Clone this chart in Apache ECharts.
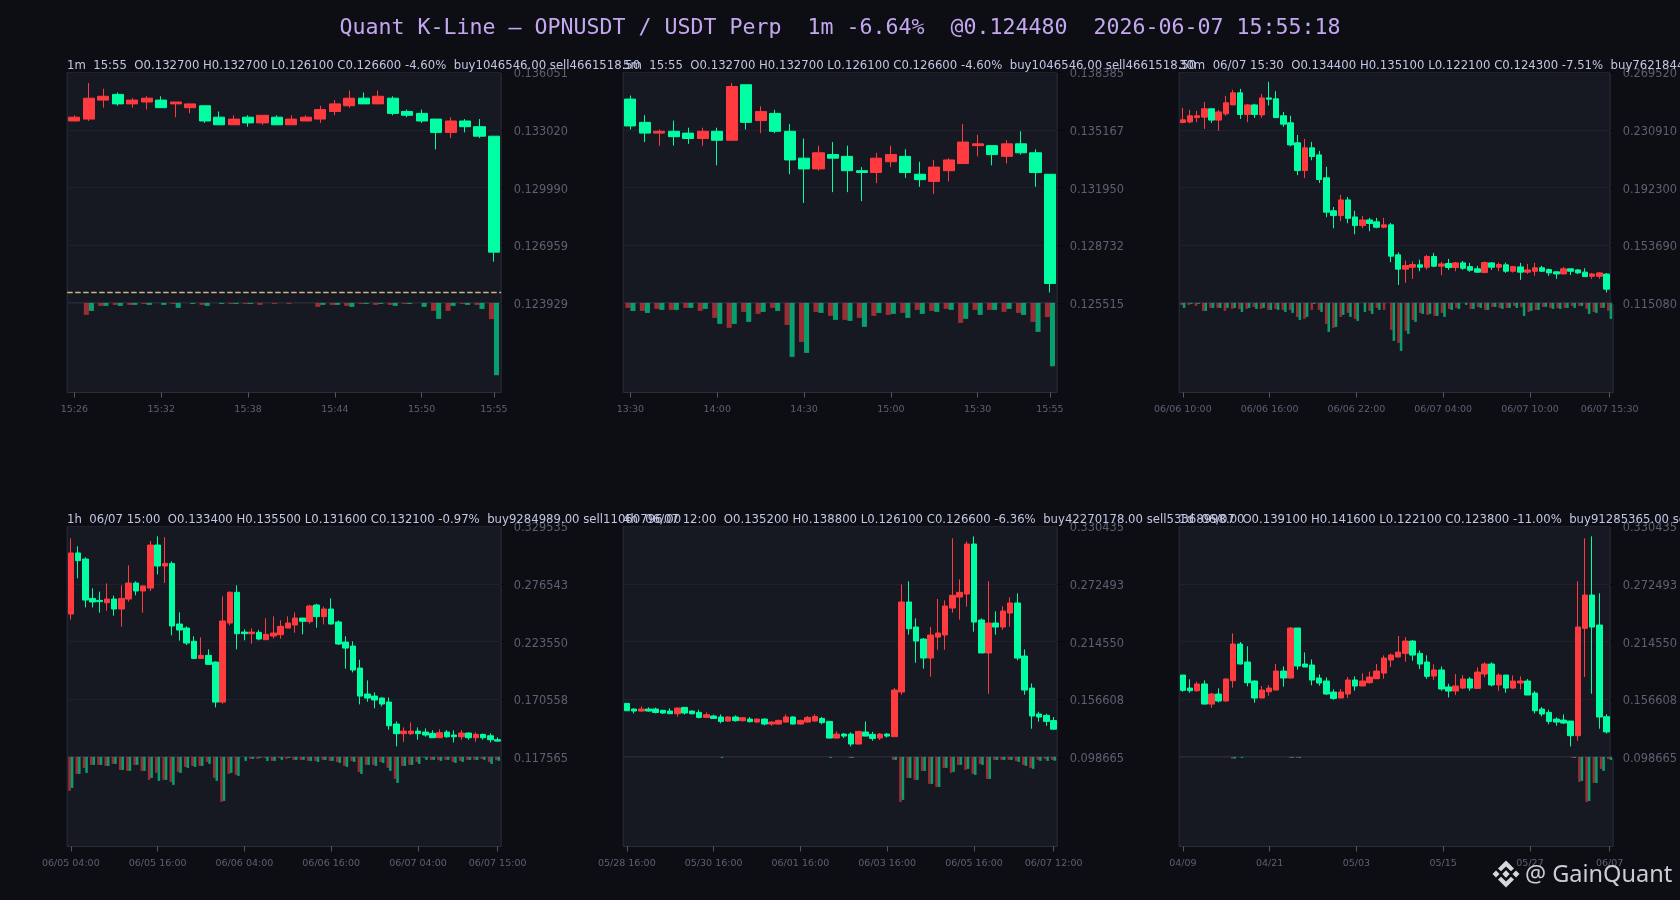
<!DOCTYPE html>
<html><head><meta charset="utf-8">
<style>html,body{margin:0;padding:0;background:#0d0e14}#c{width:1680px;height:900px}</style>
<script src="https://cdn.jsdelivr.net/npm/echarts@6/dist/echarts.min.js"></script>
</head><body><div id="c"></div>
<script>
const headline = 'Quant K-Line — OPNUSDT / USDT Perp  1m -6.64%  @0.124480  2026-06-07 15:55:18';
const watermark = '@ GainQuant';
const lastPrice = 0.12448;

// each candle row: open, close, low, high
const candles1m = [[.1335,.1337,.1335,.1338],[.1336,.1347,.1335,.1355],[.1346,.1348,.1342,.1352],[.1349,.1344,.1343,.1350],[.1344,.1346,.1342,.1347],[.1345,.1347,.1341,.1348],[.1346,.1342,.1342,.1348],[.1344,.1345,.1337,.1345],[.1342,.1344,.1339,.1344],[.1343,.1335,.1334,.1343],[.1337,.1333,.1333,.1340],[.1333,.1336,.1333,.1338],[.1337,.1334,.1332,.1338],[.1334,.1338,.1333,.1338],[.1337,.1333,.1333,.1338],[.1333,.1336,.1333,.1338],[.1335,.1337,.1335,.1338],[.1336,.1341,.1334,.1343],[.1340,.1344,.1338,.1346],[.1343,.1347,.1342,.1351],[.1347,.1344,.1344,.1350],[.1344,.1348,.1344,.1351],[.1347,.1339,.1338,.1348],[.1340,.1338,.1337,.1341],[.1339,.1335,.1334,.1341],[.1336,.1329,.1320,.1336],[.1329,.1335,.1326,.1337],[.1335,.1332,.1329,.1336],[.1332,.1327,.1326,.1336],[.1327,.1266,.1261,.1327]];
const buy1m = [0,773,193,129,129,64,0,64,0,129,0,64,64,129,64,64,0,258,129,193,64,129,129,64,0,516,516,64,129,1047];
const sell1m = [0,516,193,193,129,129,129,322,64,193,64,64,64,0,0,0,0,129,129,258,64,64,193,64,258,1031,193,129,387,4662];
const yTicks1m = [0.123929,0.126959,0.129990,0.133020,0.136051];
const xTicks1m = ['15:26','15:32','15:38','15:44','15:50','15:55'];

const candles5m = [[.1369,.1354,.1352,.1371],[.1356,.1350,.1345,.1360],[.1350,.1351,.1343,.1352],[.1351,.1348,.1343,.1357],[.1350,.1347,.1344,.1353],[.1347,.1351,.1343,.1353],[.1351,.1346,.1332,.1353],[.1346,.1376,.1346,.1378],[.1377,.1356,.1352,.1377],[.1357,.1362,.1350,.1365],[.1361,.1351,.1350,.1363],[.1351,.1335,.1327,.1355],[.1336,.1330,.1311,.1347],[.1330,.1339,.1329,.1343],[.1338,.1336,.1317,.1345],[.1337,.1329,.1317,.1343],[.1329,.1328,.1312,.1331],[.1328,.1336,.1322,.1339],[.1334,.1338,.1331,.1343],[.1337,.1328,.1325,.1341],[.1327,.1324,.1320,.1334],[.1323,.1331,.1316,.1335],[.1329,.1335,.1323,.1336],[.1333,.1345,.1333,.1355],[.1343,.1344,.1337,.1349],[.1343,.1338,.1332,.1343],[.1337,.1344,.1333,.1346],[.1344,.1339,.1338,.1351],[.1339,.1328,.1320,.1341],[.1327,.1266,.1261,.1327]];
const buy5m = [368,588,441,515,368,588,1104,1839,662,809,368,1619,2870,662,956,1251,1104,956,883,736,515,588,441,1471,515,515,662,736,1398,1047];
const sell5m = [589,736,515,515,368,441,1545,1545,1398,662,589,3974,3680,736,1251,1325,1766,736,809,1104,809,662,515,1177,883,515,441,883,2134,4662];
const yTicks5m = [0.125515,0.128732,0.131950,0.135167,0.138385];
const xTicks5m = ['13:30','14:00','14:30','15:00','15:30','15:55'];

const candles30m = [[.2360,.2378,.2355,.2458],[.2364,.2405,.2355,.2445],[.2393,.2405,.2362,.2438],[.2396,.2452,.2317,.2498],[.2452,.2376,.2358,.2452],[.2376,.2431,.2304,.2445],[.2418,.2492,.2405,.2539],[.2478,.2559,.2478,.2579],[.2559,.2414,.2384,.2586],[.2414,.2478,.2362,.2485],[.2478,.2414,.2391,.2485],[.2411,.2525,.2391,.2552],[.2525,.2516,.2474,.2633],[.2519,.2393,.2393,.2570],[.2405,.2349,.2331,.2431],[.2358,.2210,.2201,.2405],[.2224,.2038,.2007,.2277],[.2038,.2190,.1987,.2250],[.2190,.2132,.2107,.2230],[.2143,.1978,.1955,.2170],[.1989,.1759,.1725,.2063],[.1768,.1736,.1651,.1794],[.1736,.1841,.1698,.1875],[.1841,.1718,.1685,.1861],[.1727,.1669,.1611,.1768],[.1669,.1707,.1651,.1734],[.1707,.1683,.1631,.1721],[.1694,.1658,.1651,.1721],[.1658,.1674,.1651,.1721],[.1674,.1464,.1424,.1687],[.1473,.1377,.1271,.1490],[.1377,.1401,.1285,.1435],[.1390,.1408,.1312,.1428],[.1406,.1390,.1363,.1441],[.1390,.1462,.1374,.1473],[.1462,.1397,.1390,.1486],[.1397,.1412,.1336,.1426],[.1415,.1388,.1372,.1446],[.1388,.1419,.1363,.1426],[.1419,.1383,.1372,.1432],[.1394,.1370,.1359,.1419],[.1379,.1357,.1352,.1399],[.1354,.1421,.1352,.1428],[.1419,.1390,.1372,.1424],[.1390,.1408,.1363,.1421],[.1406,.1363,.1352,.1421],[.1363,.1394,.1354,.1399],[.1392,.1357,.1305,.1419],[.1357,.1372,.1345,.1412],[.1363,.1386,.1332,.1419],[.1386,.1363,.1357,.1399],[.1374,.1352,.1332,.1381],[.1359,.1345,.1312,.1363],[.1345,.1379,.1343,.1392],[.1379,.1363,.1338,.1379],[.1372,.1352,.1345,.1377],[.1357,.1327,.1325,.1383],[.1329,.1345,.1312,.1352],[.1329,.1352,.1312,.1357],[.1344,.1243,.1221,.1351]];
const buy30m = [1920,1920,2880,7680,4800,4800,7680,5760,5760,5760,3840,5760,6720,5760,6720,6720,13440,15360,6720,6720,20160,24000,13440,9600,15360,0,7680,4800,6720,25920,38400,26880,16320,9600,11520,12480,9600,5760,4800,0,5760,3840,6720,3840,4800,4800,2880,3840,8640,6720,3840,4800,4800,4800,2880,2880,5760,8640,4800,7622];
const sell30m = [4800,960,960,7680,4800,4800,4800,4800,8640,4800,5760,4800,6720,6720,8640,9600,16320,13440,960,8640,27840,23040,11520,13440,17280,8640,10560,6720,0,36480,46080,29760,18240,10560,10560,12480,13440,6720,5760,1920,5760,4800,6720,3840,5760,4800,4800,12480,7680,6720,3840,5760,5760,4800,4800,2880,10560,9600,4800,15360];
const yTicks30m = [0.115080,0.153690,0.192300,0.230910,0.269520];
const xTicks30m = ['06/06 10:00','06/06 16:00','06/06 22:00','06/07 04:00','06/07 10:00','06/07 15:30'];

const candles1h = [[.2490,.3052,.2438,.3186],[.3052,.2981,.2818,.3113],[.2996,.2619,.2551,.3012],[.2634,.2601,.2551,.2726],[.2616,.2604,.2502,.2696],[.2594,.2628,.2521,.2772],[.2628,.2536,.2475,.2659],[.2536,.2634,.2374,.2754],[.2628,.2775,.2604,.2938],[.2775,.2702,.2662,.2791],[.2702,.2748,.2502,.2754],[.2729,.3125,.2702,.3162],[.3125,.2932,.2855,.3205],[.2932,.2956,.2775,.3196],[.2956,.2380,.2294,.2975],[.2398,.2343,.2245,.2505],[.2361,.2223,.2205,.2377],[.2239,.2082,.2076,.2285],[.2082,.2110,.2076,.2275],[.2110,.2027,.2021,.2165],[.2048,.1680,.1631,.2054],[.1680,.2426,.1665,.2653],[.2407,.2690,.2386,.2699],[.2690,.2309,.2165,.2754],[.2324,.2309,.2248,.2349],[.2309,.2324,.2217,.2358],[.2321,.2260,.2248,.2343],[.2254,.2303,.2254,.2450],[.2288,.2315,.2266,.2469],[.2300,.2377,.2263,.2432],[.2361,.2407,.2361,.2469],[.2389,.2453,.2318,.2505],[.2453,.2423,.2303,.2453],[.2420,.2564,.2401,.2576],[.2573,.2466,.2364,.2585],[.2466,.2536,.2395,.2558],[.2536,.2398,.2395,.2634],[.2417,.2214,.2205,.2432],[.2232,.2177,.1987,.2285],[.2195,.1975,.1953,.2239],[.1993,.1735,.1659,.2070],[.1754,.1717,.1683,.1880],[.1735,.1699,.1622,.1769],[.1717,.1662,.1640,.1723],[.1680,.1462,.1426,.1723],[.1478,.1389,.1272,.1502],[.1389,.1413,.1315,.1447],[.1389,.1413,.1377,.1493],[.1413,.1389,.1334,.1447],[.1404,.1377,.1361,.1438],[.1392,.1352,.1352,.1420],[.1352,.1398,.1352,.1429],[.1404,.1361,.1352,.1423],[.1377,.1361,.1309,.1420],[.1361,.1395,.1334,.1423],[.1395,.1352,.1334,.1401],[.1352,.1383,.1315,.1401],[.1383,.1352,.1334,.1389],[.1370,.1334,.1309,.1392],[.1334,.1321,.1316,.1355]];
const buy1h = [96900,48450,31350,22800,22800,25650,19950,37050,39900,22800,39900,65550,45600,65550,71250,42750,28500,25650,25650,14250,59850,128250,48450,51300,0,5700,5700,2850,11400,2850,5700,8550,8550,11400,11400,8550,11400,14250,25650,11400,42750,22800,22800,14250,31350,62700,25650,22800,14250,2850,8550,8550,8550,14250,11400,8550,8550,5700,14250,9285];
const sell1h = [88350,48450,45600,22800,22800,25650,19950,37050,39900,22800,39900,59850,68400,65550,79800,45600,31350,28500,25650,19950,68400,125400,45600,54150,11400,5700,2850,11400,11400,8550,2850,8550,8550,11400,14250,8550,11400,17100,28500,14250,48450,22800,25650,17100,39900,74100,25650,22800,19950,8550,8550,11400,8550,17100,14250,8550,8550,8550,19950,11061];
const yTicks1h = [0.117565,0.170558,0.223550,0.276543,0.329535];
const xTicks1h = ['06/05 04:00','06/05 16:00','06/06 04:00','06/06 16:00','06/07 04:00','06/07 15:00'];

const candles4h = [[.1525,.1451,.1451,.1525],[.1468,.1448,.1424,.1475],[.1448,.1468,.1441,.1495],[.1468,.1448,.1441,.1485],[.1468,.1434,.1424,.1482],[.1455,.1428,.1418,.1461],[.1448,.1421,.1418,.1475],[.1421,.1478,.1391,.1485],[.1485,.1428,.1414,.1485],[.1448,.1421,.1414,.1455],[.1434,.1384,.1374,.1461],[.1384,.1411,.1381,.1434],[.1398,.1374,.1371,.1411],[.1388,.1344,.1324,.1414],[.1347,.1388,.1341,.1394],[.1388,.1351,.1341,.1404],[.1351,.1381,.1344,.1388],[.1367,.1341,.1334,.1388],[.1337,.1367,.1331,.1374],[.1367,.1317,.1304,.1374],[.1317,.1337,.1300,.1347],[.1317,.1354,.1314,.1361],[.1337,.1388,.1334,.1414],[.1388,.1317,.1314,.1394],[.1317,.1354,.1310,.1361],[.1337,.1384,.1331,.1398],[.1347,.1394,.1341,.1414],[.1374,.1331,.1314,.1388],[.1344,.1176,.1173,.1347],[.1176,.1216,.1173,.1243],[.1216,.1196,.1176,.1227],[.1216,.1116,.1092,.1233],[.1116,.1243,.1116,.1243],[.1237,.1196,.1193,.1344],[.1213,.1173,.1149,.1240],[.1176,.1216,.1156,.1227],[.1216,.1196,.1180,.1227],[.1190,.1659,.1190,.1679],[.1639,.2545,.1612,.2722],[.2545,.2276,.2216,.2753],[.2293,.2152,.1934,.2380],[.2172,.1981,.1874,.2182],[.1981,.2213,.1793,.2293],[.2192,.2233,.2065,.2575],[.2213,.2504,.2065,.2561],[.2484,.2612,.2437,.3185],[.2595,.2642,.2367,.2773],[.2625,.3128,.2498,.3155],[.3128,.2343,.2246,.3205],[.2364,.2032,.2032,.2380],[.2032,.2333,.1622,.2753],[.2333,.2293,.2216,.2451],[.2293,.2454,.2266,.2501],[.2434,.2535,.2296,.2592],[.2535,.1981,.1958,.2632],[.2001,.1659,.1612,.2068],[.1679,.1398,.1270,.1726],[.1418,.1388,.1341,.1441],[.1404,.1344,.1300,.1421],[.1352,.1266,.1261,.1388]];
const buy4h = [0,0,0,0,0,0,0,0,0,0,0,0,0,0,0,0,0,0,0,0,0,0,0,0,0,0,0,0,0,0,0,13800,0,0,0,0,0,41400,621000,289800,317400,193200,372600,414000,151800,220800,110400,179400,234600,96600,303600,41400,41400,41400,55200,110400,151800,41400,27600,42270];
const sell4h = [0,0,0,0,0,0,0,0,0,0,0,0,0,13800,0,0,0,0,0,0,0,0,0,0,0,0,0,0,13800,0,0,13800,0,0,0,0,0,41400,593400,289800,317400,193200,372600,414000,151800,207000,110400,165600,248400,110400,303600,41400,41400,41400,69000,124200,165600,55200,55200,53369];
const yTicks4h = [0.098665,0.156608,0.214550,0.272493,0.330435];
const xTicks4h = ['05/28 16:00','05/30 16:00','06/01 16:00','06/03 16:00','06/05 16:00','06/07 12:00'];

const candles1d = [[.1810,.1656,.1642,.1810],[.1679,.1652,.1632,.1767],[.1652,.1720,.1642,.1743],[.1720,.1518,.1515,.1756],[.1518,.1619,.1481,.1632],[.1619,.1549,.1535,.1676],[.1549,.1770,.1542,.1777],[.1753,.2122,.1683,.2229],[.2122,.1921,.1918,.2142],[.1941,.1733,.1696,.2099],[.1750,.1579,.1532,.1756],[.1579,.1659,.1579,.1700],[.1642,.1679,.1602,.1710],[.1659,.1850,.1659,.1921],[.1850,.1780,.1693,.1897],[.1780,.2283,.1777,.2293],[.2283,.1901,.1864,.2283],[.1921,.1891,.1891,.2038],[.1911,.1760,.1706,.1968],[.1780,.1730,.1703,.1817],[.1750,.1619,.1609,.1787],[.1639,.1575,.1562,.1666],[.1579,.1639,.1579,.1670],[.1619,.1760,.1579,.1790],[.1760,.1700,.1652,.1797],[.1700,.1750,.1700,.1827],[.1733,.1790,.1723,.1844],[.1773,.1850,.1770,.1921],[.1830,.1981,.1773,.2008],[.1961,.2011,.1891,.2028],[.1991,.2041,.1991,.2203],[.2028,.2152,.1944,.2192],[.2152,.2011,.1954,.2162],[.2028,.1921,.1870,.2058],[.1941,.1797,.1773,.2008],[.1800,.1861,.1760,.1918],[.1861,.1670,.1652,.1897],[.1690,.1649,.1585,.1723],[.1649,.1700,.1609,.1820],[.1679,.1770,.1670,.1810],[.1770,.1679,.1652,.1790],[.1676,.1840,.1670,.1887],[.1820,.1921,.1787,.1938],[.1921,.1710,.1696,.1938],[.1710,.1810,.1652,.1827],[.1810,.1679,.1632,.1810],[.1679,.1750,.1670,.1807],[.1730,.1750,.1666,.1797],[.1750,.1609,.1609,.1770],[.1629,.1451,.1424,.1649],[.1468,.1418,.1394,.1488],[.1434,.1344,.1314,.1461],[.1367,.1337,.1300,.1384],[.1357,.1327,.1317,.1414],[.1347,.1200,.1092,.1347],[.1200,.2293,.1149,.2753],[.2280,.2615,.1790,.3185],[.2615,.2293,.1622,.3205],[.2313,.1388,.1270,.2632],[.1391,.1238,.1221,.1416]];
const buy1d = [0,0,0,0,0,0,0,76000,0,0,0,0,0,0,0,45600,45600,0,0,0,0,0,0,0,0,0,0,0,0,0,0,0,0,0,0,0,0,0,0,0,0,0,0,0,0,0,0,0,0,0,0,0,0,0,45600,1140000,2052000,1185600,547200,91285];
const sell1d = [0,0,0,0,0,0,0,76000,45600,0,0,0,0,0,0,45600,45600,0,0,0,0,0,0,0,0,0,0,0,0,0,0,0,0,0,0,0,0,0,0,0,0,0,0,0,0,0,0,0,0,0,0,0,0,0,45600,1094400,2006400,1185600,638400,136800];
const yTicks1d = [0.098665,0.156608,0.214550,0.272493,0.330435];
const xTicks1d = ['04/09','04/21','05/03','05/15','05/27','06/07'];

const heads = [
 '1m  15:55  O0.132700 H0.132700 L0.126100 C0.126600 -4.60%  buy1046546.00 sell4661518.50',
 '5m  15:55  O0.132700 H0.132700 L0.126100 C0.126600 -4.60%  buy1046546.00 sell4661518.50',
 '30m  06/07 15:30  O0.134400 H0.135100 L0.122100 C0.124300 -7.51%  buy7621844.00 sell15244000.00',
 '1h  06/07 15:00  O0.133400 H0.135500 L0.131600 C0.132100 -0.97%  buy9284989.00 sell11060796.00',
 '4h  06/07 12:00  O0.135200 H0.138800 L0.126100 C0.126600 -6.36%  buy42270178.00 sell53368998.00',
 '1d  06/07  O0.139100 H0.141600 L0.122100 C0.123800 -11.00%  buy91285365.00 sell136800000.00'
];
const panels = [
 {c:candles1m,b:buy1m,s:sell1m,y:yTicks1m,x:xTicks1m,step:6,vmax:5777,line:true},
 {c:candles5m,b:buy5m,s:sell5m,y:yTicks5m,x:xTicks5m,step:6,vmax:6595},
 {c:candles30m,b:buy30m,s:sell30m,y:yTicks30m,x:xTicks30m,step:12,vmax:86016},
 {c:candles1h,b:buy1h,s:sell1h,y:yTicks1h,x:xTicks1h,step:12,vmax:255360},
 {c:candles4h,b:buy4h,s:sell4h,y:yTicks4h,x:xTicks4h,step:12,vmax:1236480},
 {c:candles1d,b:buy1d,s:sell1d,y:yTicks1d,x:xTicks1d,step:12,vmax:4085760}
];

const RED='#ff3b3f', GREEN='#00ffa3', PANEL='#161922', EDGE='#2a2d3c', AXISTXT='#5c6072';
const option={backgroundColor:'#0d0e14',animation:false,title:[],grid:[],xAxis:[],yAxis:[],series:[],
 graphic:[]};
option.title.push({text:headline,left:'center',top:12,textStyle:{fontFamily:'DejaVu Sans Mono',fontWeight:'normal',fontSize:21.6,color:'#c4a7f0'}});
panels.forEach((p,k)=>{
 const col=k%3,row=k>=3?1:0;
 const L=67.2+556*col,T=row?526.5:72.5,W=434,HP=230.4,HV=89.6;
 const n=p.c.length;
 const cats=p.c.map((_,i)=>i===n-1?p.x[p.x.length-1]:(i%p.step===0?p.x[i/p.step]:''));
 const show=(i)=>i%p.step===0||i===n-1;
 const g=k*2;
 option.title.push({text:heads[k],left:L-0.2,top:T-12.7,padding:0,textStyle:{fontFamily:'DejaVu Sans',fontWeight:'normal',fontSize:11.7,color:'#c0c6e4'}});
 option.grid.push({left:L,top:T,width:W,height:HP,show:true,backgroundColor:PANEL,borderColor:EDGE,borderWidth:1});
 option.grid.push({left:L,top:T+HP,width:W,height:HV,show:true,backgroundColor:PANEL,borderColor:EDGE,borderWidth:1});
 option.xAxis.push({type:'category',gridIndex:g,data:cats,show:false});
 option.xAxis.push({type:'category',gridIndex:g+1,data:cats,position:'bottom',
  axisLine:{show:false,onZero:false},
  axisTick:{show:true,alignWithLabel:true,interval:show,length:5,lineStyle:{color:'#555864'}},
  axisLabel:{show:true,interval:show,hideOverlap:false,fontFamily:'DejaVu Sans',fontSize:9.5,color:AXISTXT,margin:12}});
 option.yAxis.push({type:'value',gridIndex:g,position:'right',min:p.y[0],max:p.y[4],scale:true,
  axisLine:{show:false,onZero:false},
  axisTick:{show:true,length:5,customValues:p.y,lineStyle:{color:'#08090c'}},
  splitLine:{show:true,lineStyle:{color:'#1e2130',width:1}},
  axisLabel:{show:true,customValues:p.y,margin:12.5,formatter:v=>'{t|'+v.toFixed(6)+'}',
   rich:{t:{fontFamily:'DejaVu Sans',fontSize:11.4,color:AXISTXT,padding:[4,0,0,0]}}}});
 option.yAxis.push({type:'value',gridIndex:g+1,inverse:true,min:0,max:p.vmax,show:false});
 option.series.push({type:'candlestick',xAxisIndex:g,yAxisIndex:g,data:p.c,barWidth:n>30?'83%':'80%',z:3,
  itemStyle:{color:RED,color0:GREEN,borderColor:RED,borderColor0:GREEN,borderWidth:1}});
 option.series.push({type:'bar',xAxisIndex:g+1,yAxisIndex:g+1,data:p.b,barWidth:'35%',barGap:'0%',itemStyle:{color:RED,opacity:.58}});
 option.series.push({type:'bar',xAxisIndex:g+1,yAxisIndex:g+1,data:p.s,barWidth:'35%',barGap:'0%',itemStyle:{color:GREEN,opacity:.58}});
});
// full-width current-price line on the 1m panel: its own 0..1 x axis over the price grid
option.xAxis.push({type:'value',gridIndex:0,show:false,min:0,max:1});
option.series.push({type:'line',xAxisIndex:option.xAxis.length-1,yAxisIndex:0,data:[[0,lastPrice],[1,lastPrice]],
 showSymbol:false,symbol:'none',silent:true,z:4,lineStyle:{color:'#c9b48a',type:[5.5,2.5],width:1.5}});
// watermark logo
const cx=1506,cy=874,wm='#d6d8de';
const poly=(pts)=>({type:'polygon',z:100,shape:{points:pts.map(q=>[cx+q[0],cy+q[1]])},style:{fill:wm}});
option.graphic=[
 poly([[-13.5,0],[-10,-3.5],[-6.5,0],[-10,3.5]]),
 poly([[13.5,0],[10,-3.5],[6.5,0],[10,3.5]]),
 poly([[0,-3.7],[3.7,0],[0,3.7],[-3.7,0]]),
 poly([[0,-13.5],[8,-5.5],[5,-2.7],[0,-7.6],[-5,-2.7],[-8,-5.5]]),
 poly([[0,13.5],[8,5.5],[5,2.7],[0,7.6],[-5,2.7],[-8,5.5]]),
 {type:'text',z:100,left:1525,top:863,style:{text:watermark,fontFamily:'Noto Sans',fontSize:23.5,fill:wm,opacity:.95}}
];
const chart=echarts.init(document.getElementById('c'),null,{renderer:'canvas',width:1680,height:900});
chart.setOption(option);
</script></body></html>
